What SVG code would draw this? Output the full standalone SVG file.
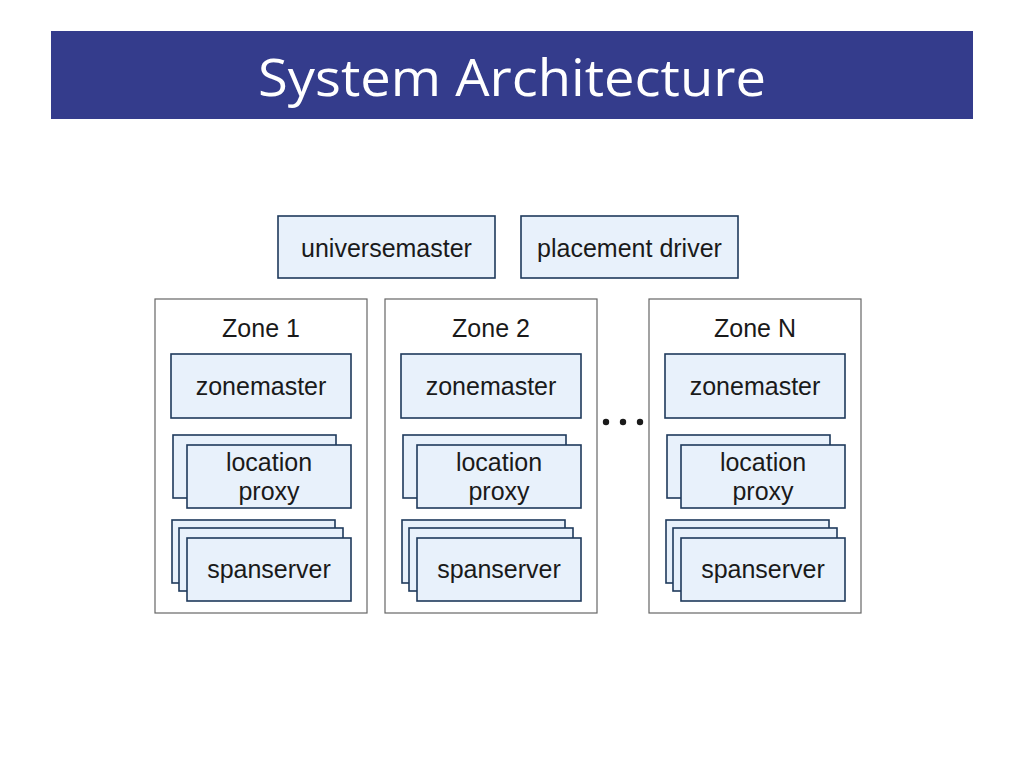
<svg xmlns="http://www.w3.org/2000/svg" width="1024" height="768" viewBox="0 0 1024 768">
<style>
.bg{fill:#ffffff}
.title{fill:#343c8c}
.tt{font-family:"Open Sans","Liberation Sans",sans-serif;font-size:52px;fill:#ffffff;text-anchor:middle}
.zone{fill:#ffffff;stroke:#666666;stroke-width:1.2}
.box{fill:#e8f1fb;stroke:#1f3a5c;stroke-width:1.6}
.lbl{font-family:"Liberation Sans",Arial,sans-serif;font-size:25px;fill:#1a1a1a;text-anchor:middle}
.dot{fill:#1a1a1a}
</style>
<defs>
<g id="zoneContent">
<rect class="zone" x="0" y="0" width="212" height="314"/>
<g><rect class="box" x="16" y="55" width="180" height="64"/><text class="lbl" x="106" y="96">zonemaster</text></g>
<g><rect class="box" x="18" y="136" width="163" height="63"/><rect class="box" x="32" y="146" width="164" height="63"/><text class="lbl" x="114" y="172">location</text><text class="lbl" x="114" y="201">proxy</text></g>
<g><rect class="box" x="17" y="221" width="163" height="63"/><rect class="box" x="24" y="229" width="164" height="63"/><rect class="box" x="32" y="239" width="164" height="63"/><text class="lbl" x="114" y="279">spanserver</text></g>
</g>
</defs>
<rect class="bg" x="0" y="0" width="1024" height="768"/>
<g id="title"><rect class="title" x="51" y="31" width="922" height="88"/><text class="tt" x="512" y="96" textLength="508" lengthAdjust="spacingAndGlyphs">System Architecture</text></g>
<g id="universemaster"><rect class="box" x="278" y="216" width="217" height="62"/><text class="lbl" x="386.5" y="257">universemaster</text></g>
<g id="placement-driver"><rect class="box" x="521" y="216" width="217" height="62"/><text class="lbl" x="629.5" y="257">placement driver</text></g>
<g id="zone1" transform="translate(155,299)"><use href="#zoneContent"/><text class="lbl" x="106" y="38">Zone 1</text></g>
<g id="zone2" transform="translate(385,299)"><use href="#zoneContent"/><text class="lbl" x="106" y="38">Zone 2</text></g>
<g id="zoneN" transform="translate(649,299)"><use href="#zoneContent"/><text class="lbl" x="106" y="38">Zone N</text></g>
<g id="ellipsis"><circle class="dot" cx="606" cy="422" r="3.2"/><circle class="dot" cx="623" cy="422" r="3.2"/><circle class="dot" cx="640" cy="422" r="3.2"/></g>
<g id="connectors"></g>
</svg>
